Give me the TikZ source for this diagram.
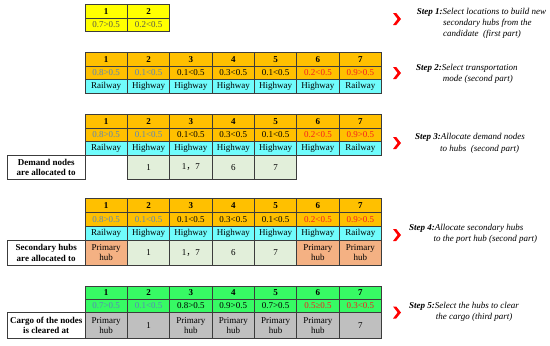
\documentclass[tikz,border=0pt]{standalone}
\usepackage{fontspec}
\setmainfont{Liberation Serif}
\newfontfamily\cjk{Noto Sans CJK SC}
\definecolor{ylw}{RGB}{255,255,0}
\definecolor{gold}{RGB}{255,192,0}
\definecolor{cyn}{RGB}{112,252,252}
\definecolor{lgrn}{RGB}{226,239,218}
\definecolor{slmn}{RGB}{244,177,131}
\definecolor{bgrn}{RGB}{55,250,100}
\definecolor{gry}{RGB}{191,191,191}
\definecolor{vblue}{RGB}{90,135,185}
\definecolor{vred}{RGB}{245,30,30}
\definecolor{vgry}{RGB}{90,90,70}
\definecolor{bordc}{RGB}{60,60,60}
\newcommand\cellfont{\fontsize{9}{10.4}\selectfont}
\newcommand\fc{{\cjk ，}}
\newcommand\numrow[4]{%
  \foreach \i in {1,...,7}
    \node[cell, fill=#4, minimum height=#3, font=\cellfont\bfseries] (#1\i) at ({85+42.36*(\i-0.5)},#2) {\i};}
\newcommand\valrow[3]{%
  \foreach \i/\t/\c in {1/0.8>0.5/vblue,2/0.1<0.5/vblue,3/0.1<0.5/black,4/0.3<0.5/black,5/0.1<0.5/black,6/0.2<0.5/vred,7/0.9>0.5/vred}
    \node[cell, fill=gold, minimum height=#3, text=\c] (#1\i) at ({85+42.36*(\i-0.5)},#2) {\t};}
\newcommand\moderow[3]{%
  \foreach \i/\t in {1/Railway,2/Highway,3/Highway,4/Highway,5/Highway,6/Highway,7/Railway}
    \node[cell, fill=cyn, minimum height=#3] (#1\i) at ({85+42.36*(\i-0.5)},#2) {\t};}
\begin{document}
\begin{tikzpicture}[x=1pt,y=-1pt,
  cell/.style={draw=bordc, line width=0.7pt, minimum width=42.36pt, inner sep=0pt, align=center, font=\cellfont},
  lbl/.style={draw=bordc, line width=0.7pt, minimum width=77.7pt, inner sep=0pt, align=center, font=\cellfont\bfseries},
  steptext/.style={anchor=west, inner sep=0pt, font=\fontsize{9}{10}\selectfont\itshape},
  chevron/.pic={\fill[red] (-4,-6) -- (-0.8,-6) -- (4,0) -- (-0.8,6) -- (-4,6) -- (0.6,0) -- cycle;}]
\useasboundingbox (0,0) rectangle (550,346);
% Table 1
\foreach \i in {1,2}
  \node[cell, fill=ylw, minimum height=14pt, font=\cellfont\bfseries] (a\i) at ({85+42.36*(\i-0.5)},11.3) {\i};
\node[cell, fill=ylw, minimum height=13.4pt, text=vgry] (av1) at ({85+42.36*0.5},25) {0.7>0.5};
\node[cell, fill=ylw, minimum height=13.4pt, text=vgry] (av2) at ({85+42.36*1.5},25) {0.2<0.5};
% Table 2
\numrow{b}{59.35}{13.3pt}{gold}
\valrow{bv}{72.65}{13.3pt}
\moderow{bm}{86.3}{14pt}
% Table 3
\numrow{c}{121.3}{14pt}{gold}
\valrow{cv}{135}{13.4pt}
\moderow{cm}{148.35}{13.3pt}
\node[lbl, minimum height=24.3pt] (cl) at (46.15,167.15) {Demand nodes\\are allocated to};
\foreach \i/\t in {2/1,3/1\fc 7,4/6,5/7}
  \node[cell, fill=lgrn, minimum height=24.3pt] (ca\i) at ({85+42.36*(\i-0.5)},167.15) {\t};
% Table 4
\numrow{d}{205.3}{14pt}{gold}
\valrow{dv}{219.4}{14.2pt}
\moderow{dm}{233.6}{14.2pt}
\node[lbl, minimum height=24.3pt] (dl) at (46.15,252.85) {Secondary hubs\\are allocated to};
\foreach \i/\t/\f in {1/Primary\\hub/slmn,2/1/lgrn,3/1\fc 7/lgrn,4/6/lgrn,5/7/lgrn,6/Primary\\hub/slmn,7/Primary\\hub/slmn}
  \node[cell, fill=\f, minimum height=24.3pt] (da\i) at ({85+42.36*(\i-0.5)},252.85) {\t};
% Table 5
\numrow{e}{293}{12.6pt}{bgrn}
\foreach \i/\t/\c in {1/0.7>0.5/vblue,2/0.1<0.5/vblue,3/0.8>0.5/black,4/0.9>0.5/black,5/0.7>0.5/black,6/0.5≥0.5/vred,7/0.3<0.5/vred}
  \node[cell, fill=bgrn, minimum height=13.4pt, text=\c] (ev\i) at ({85+42.36*(\i-0.5)},306) {\t};
\node[lbl, minimum height=25.6pt] (el) at (46.15,325.5) {Cargo of the nodes\\is cleared at};
\foreach \i/\t in {1/Primary\\hub,2/1,3/Primary\\hub,4/Primary\\hub,5/Primary\\hub,6/Primary\\hub,7/7}
  \node[cell, fill=gry, minimum height=25.6pt] (ea\i) at ({85+42.36*(\i-0.5)},325.5) {\t};
% Chevrons
\pic at (397,19) {chevron};
\pic at (397,73) {chevron};
\pic at (397,143) {chevron};
\pic at (397,235) {chevron};
\pic at (397,312.5) {chevron};
% Step texts
\node[steptext] (s1a) at (416.7,12.3) {\textbf{Step 1:}Select locations to build new};
\node[steptext] (s1b) at (443,23.7) {secondary hubs from the};
\node[steptext] (s1c) at (443,34) {candidate\ \ (first part)};
\node[steptext] (s2a) at (416,68) {\textbf{Step 2:}Select transportation};
\node[steptext] (s2b) at (442.7,79) {mode (second part)};
\node[steptext] (s3a) at (415,137.3) {\textbf{Step 3:}Allocate demand nodes};
\node[steptext] (s3b) at (440,149) {to hubs\ \ (second part)};
\node[steptext] (s4a) at (409,228.3) {\textbf{Step 4:}Allocate secondary hubs};
\node[steptext] (s4b) at (433.3,239.3) {to the port hub (second part)};
\node[steptext] (s5a) at (409,306.7) {\textbf{Step 5:}Select the hubs to clear};
\node[steptext] (s5b) at (435.7,317.3) {the cargo (third part)};
\end{tikzpicture}
\end{document}
